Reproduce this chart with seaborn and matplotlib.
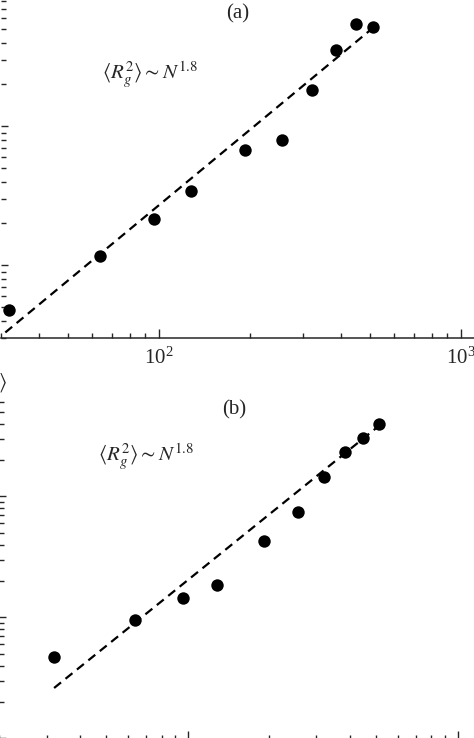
import numpy as np
import pandas as pd
import seaborn as sns
import matplotlib.pyplot as plt
from matplotlib.ticker import LogLocator, NullFormatter

# chain length and mean square radius of gyration, panels (a) and (b)
chain_n = [32, 64, 96, 128, 192, 256, 320, 384, 448, 512]
rg2_a = [4.8, 11.6, 21.4, 34.0, 67.0, 80.0, 182.0, 352.0, 542.0, 515.0]
rg2_b = [4.7, 9.6, 14.6, 18.7, 43.0, 74.0, 144.0, 231.0, 301.0, 393.0]

# guide line <Rg^2> = A * N^1.8
fit_exponent = 1.8
fit_prefactor_a = 0.0068
fit_prefactor_b = 0.0051
fit_range_a = [31, 500]
fit_range_b = [32, 530]

panel_labels = ["(a)", "(b)"]
slope_label = r"$\langle R_g^2\rangle \sim N^{1.8}$"

sns.set_style("ticks")
plt.rcParams["font.family"] = ["Liberation Serif", "DejaVu Serif"]
plt.rcParams["mathtext.fontset"] = "stix"
plt.rcParams["axes.linewidth"] = 1.1

W, H = 474, 738
fig = plt.figure(figsize=(W / 100, H / 100), dpi=100)


def add_axes_px(left, top, right, bottom):
    return fig.add_axes([left / W, 1 - bottom / H, (right - left) / W, (bottom - top) / H])


ax_a = add_axes_px(1, -3, 485, 338)
ax_b = add_axes_px(-1, 398, 479, 739.5)

panels = [
    (ax_a, rg2_a, fit_prefactor_a, fit_range_a, (30, 1200), (3, 850), 0.950),
    (ax_b, rg2_b, fit_prefactor_b, fit_range_b, (20, 1200), (0.98, 650), 0.965),
]

for i, (ax, rg2, pref, frange, xlim, ylim, label_y) in enumerate(panels):
    df = pd.DataFrame({"N": chain_n, "Rg2": rg2})
    fit = pd.DataFrame({"N": frange})
    fit["Rg2"] = pref * fit["N"] ** fit_exponent

    ax.set_xscale("log")
    ax.set_yscale("log")
    sns.lineplot(data=fit, x="N", y="Rg2", ax=ax, color="black", lw=1.6,
                 linestyle=(0, (4, 2.6)))
    sns.scatterplot(data=df, x="N", y="Rg2", ax=ax, color="black", s=80,
                    linewidth=0, zorder=3)
    ax.set_xlim(*xlim)
    ax.set_ylim(*ylim)
    ax.set_xlabel("")
    ax.set_ylabel("")

    for side in ["top", "right", "left"]:
        ax.spines[side].set_visible(False)
    ax.xaxis.set_minor_locator(LogLocator(base=10, subs=np.arange(2, 10)))
    ax.yaxis.set_minor_locator(LogLocator(base=10, subs=np.arange(2, 10)))
    ax.xaxis.set_minor_formatter(NullFormatter())
    ax.yaxis.set_minor_formatter(NullFormatter())
    ax.tick_params(which="both", direction="in", top=False, right=False,
                   width=1.0, labelsize=15)
    ax.tick_params(axis="x", which="major", length=6.5, pad=7)
    ax.tick_params(axis="x", which="minor", length=3.8)
    ax.tick_params(axis="y", which="major", length=5.2, labelleft=False)
    ax.tick_params(axis="y", which="minor", length=3.6)

    ax.text(0.49, label_y, panel_labels[i], transform=ax.transAxes,
            ha="center", va="center", fontsize=15)

ax_b.tick_params(axis="x", labelbottom=False)

# slope annotations and the cropped y label of panel (b)
fig.text(150 / W, 1 - 75 / H, slope_label, ha="center", va="center", fontsize=15)
fig.text(146 / W, 1 - 457 / H, slope_label, ha="center", va="center", fontsize=15)
fig.text(7 / W, 1 - 385 / H, r"$\langle R_g^2\rangle$", ha="right", va="center",
         fontsize=15)

fig.savefig("out.png", dpi=100)
